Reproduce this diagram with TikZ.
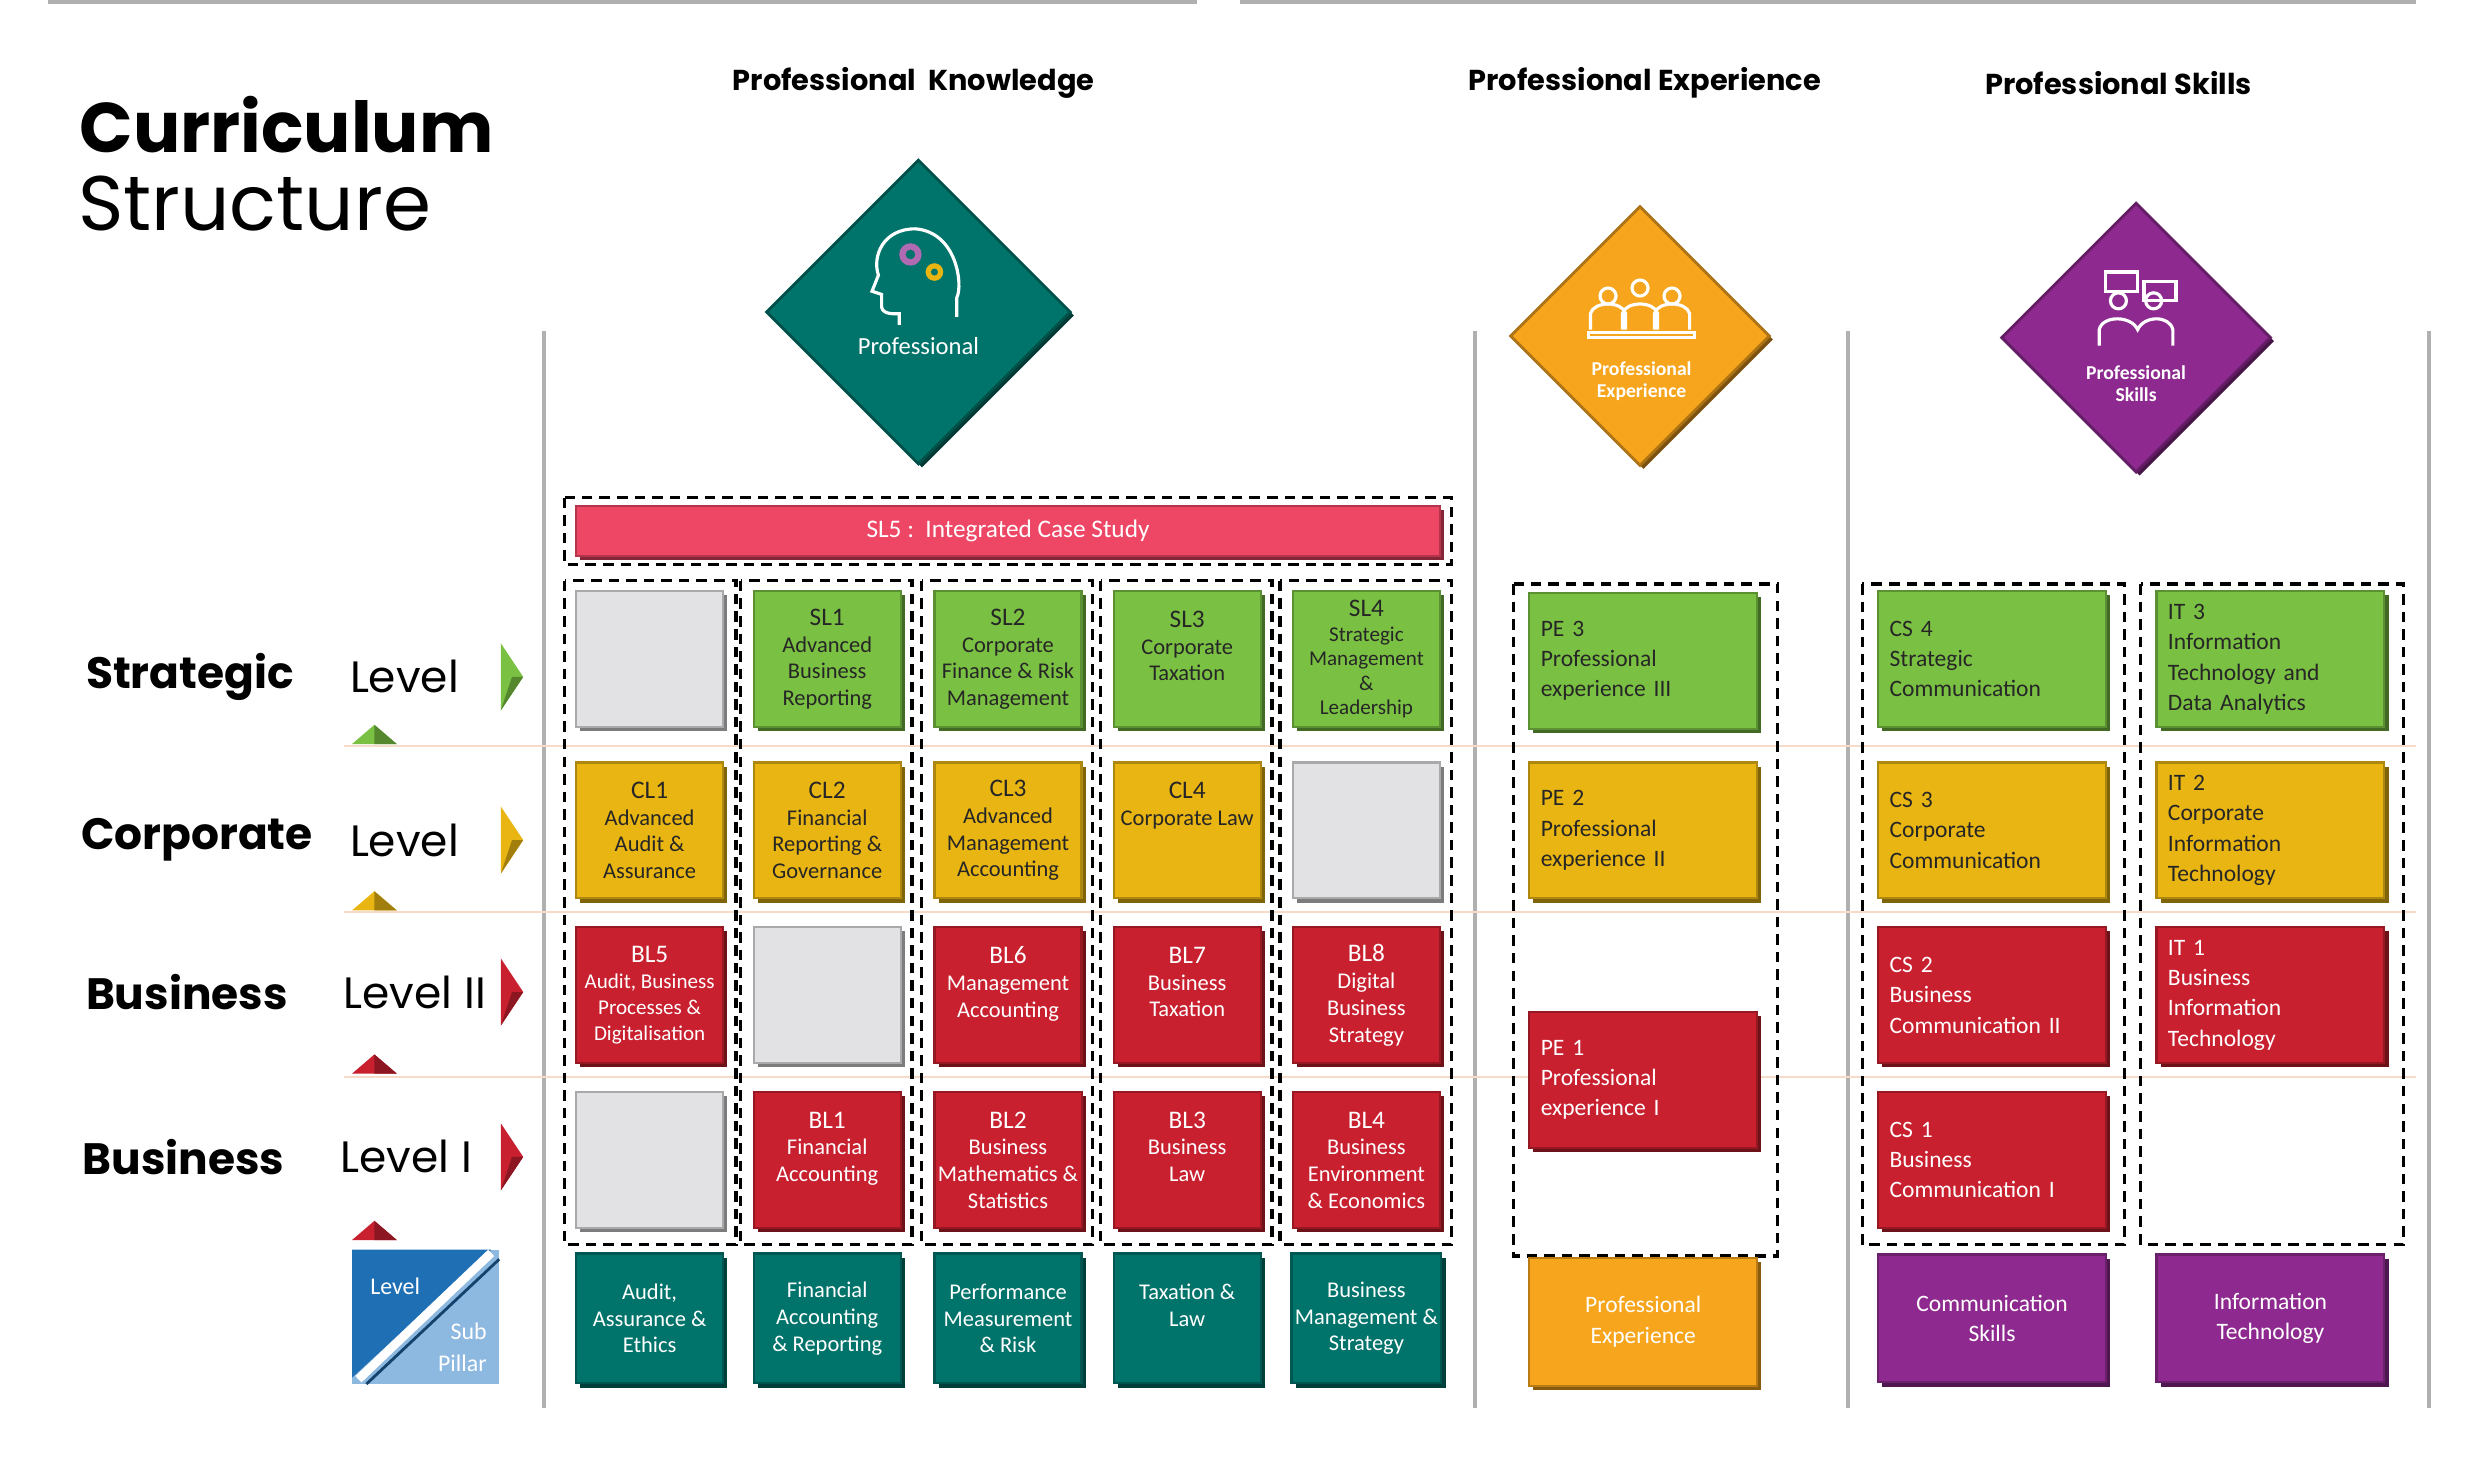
\documentclass[tikz,border=0pt]{standalone}
\usepackage{fontspec}
\setmainfont{Carlito}
\newfontfamily\headfont{Poppins}
\usetikzlibrary{shapes.geometric,shadows}

\definecolor{cgreen}{HTML}{7AC143}
\definecolor{cyellow}{HTML}{E8B512}
\definecolor{cred}{HTML}{C8202F}
\definecolor{cteal}{HTML}{00736A}
\definecolor{cgrey}{HTML}{E2E2E4}
\definecolor{corange}{HTML}{F7A51C}
\definecolor{cpurple}{HTML}{8E2A8F}
\definecolor{cpink}{HTML}{EE4665}
\definecolor{cblue}{HTML}{1F6FB5}
\definecolor{clblue}{HTML}{8DB8E0}
\definecolor{rule}{HTML}{B0B0B0}
\definecolor{faint}{HTML}{F6DCC8}

\tikzset{
  cell/.style={rectangle, fill=#1, draw=#1!75!black, line width=0.6pt,
    general shadow={fill=#1!55!black, shadow xshift=1.2pt, shadow yshift=-1.2pt},
    minimum width=1.47cm, minimum height=1.36cm, inner sep=1pt,
    align=center, font=\fontsize{6.4}{7.6}\selectfont},
  wide/.style={minimum width=2.28cm, text width=2.05cm, align=left},
  dark/.style={text=black!85},
  light/.style={text=white},
  dashbox/.style={dashed, line width=0.9pt, dash pattern=on 3pt off 2pt},
  vrule/.style={rule, line width=1.1pt},
  lvl/.style={anchor=west, font=\headfont\fontsize{12.5}{13}\selectfont},
  head/.style={font=\headfont\bfseries\fontsize{8.2}{9}\selectfont},
  pillar/.style={diamond, aspect=1, draw=#1!70!black, line width=0.8pt, fill=#1,
    general shadow={fill=#1!50!black, shadow xshift=1pt, shadow yshift=-1pt}},
}

\begin{document}
\begin{tikzpicture}[x=0.016cm, y=-0.016cm]
\useasboundingbox (0,0) rectangle (1550.6,911.25);

% top rules and title
\draw[rule, line width=1.2pt] (30,1) -- (748,1);
\draw[rule, line width=1.2pt] (775,1) -- (1510,1);
\node[anchor=west, font=\headfont\bfseries\fontsize{20}{20}\selectfont] (title1) at (42,78) {Curriculum};
\node[anchor=west, font=\headfont\fontsize{22}{22}\selectfont] (title2) at (41,127) {Structure};

% column heads
\node[head] (hpk) at (571,52) {Professional\ \ Knowledge};
\node[head] (hpe) at (1028,52) {Professional Experience};
\node[head] (hps) at (1324,52) {Professional Skills};

% vertical rules
\foreach \x in {340,922,1155,1518}
  \draw[vrule] (\x,207) -- (\x,880);

% faint level lines
\foreach \y in {466,570,673}
  \draw[faint, line width=0.6pt] (215,\y) -- (1510,\y);

% pillar diamonds
\node[pillar=cteal, minimum width=3.05cm, minimum height=3.05cm] (dpk) at (574,195) {};
\node[pillar=corange, minimum width=2.6cm, minimum height=2.6cm] (dpe) at (1025,210) {};
\node[pillar=cpurple, minimum width=2.7cm, minimum height=2.7cm] (dps) at (1335,211) {};
\node[text=white, font=\fontsize{7}{8}\selectfont] (tpk) at (574,216) {Professional};
\node[text=white, align=center, font=\bfseries\fontsize{5.6}{6.2}\selectfont] (tpe) at (1026,238) {Professional\\Experience};
\node[text=white, align=center, font=\bfseries\fontsize{5.6}{6.2}\selectfont] (tps) at (1335,240) {Professional\\Skills};
% icons
\draw[white, line width=0.9pt] (598,198) -- (598,186) .. controls (602,178) and (598,145) .. (572,143)
  .. controls (552,143) and (545,160) .. (549,172) -- (545,182) -- (551,184) -- (551,192)
  .. controls (552,197) and (560,196) .. (562,196) -- (562,203);
\fill[cpurple!70!white] (569,159) circle (7);
\fill[cteal] (569,159) circle (3);
\fill[cyellow] (584,170) circle (5.5);
\fill[cteal] (584,170) circle (2.2);
\foreach \dx in {-20,0,20}{
  \draw[white, line width=0.9pt] (1025+\dx,180+\dx*\dx/80) circle (5);
  \draw[white, line width=0.9pt] (1014+\dx,206) -- (1014+\dx,196) .. controls (1016+\dx,188) and (1034+\dx,188) .. (1036+\dx,196) -- (1036+\dx,206);
}
\draw[white, line width=0.9pt] (993,208) -- (1059,208) -- (1059,211) -- (993,211) -- cycle;
\draw[white, line width=0.9pt] (1324,188) circle (5) (1346,188) circle (5);
\draw[white, line width=0.9pt] (1312,216) -- (1312,206) .. controls (1314,197) and (1332,197) .. (1336,206) .. controls (1340,197) and (1356,197) .. (1358,206) -- (1358,216);
\draw[white, line width=0.9pt] (1316,170) rectangle (1336,182) (1340,176) rectangle (1360,188);

% row labels
\node[lvl] (ls) at (46,423) {\bfseries Strategic};
\node[lvl] (ls2) at (211,423) {Level};
\node[lvl] (lc) at (43,525) {\bfseries Corporate};
\node[lvl] (lc2) at (211,525) {Level};
\node[lvl] (lb2) at (46,620) {\bfseries Business};
\node[lvl] (lb22) at (207,620) {Level II};
\node[lvl] (lb1) at (44,723) {\bfseries Business};
\node[lvl] (lb12) at (205,723) {Level I};
\foreach \y/\c in {423/cgreen,525/cyellow,620/cred,723/cred}{
  \fill[\c] (313,\y-21) -- (327,\y) -- (313,\y+21) -- cycle;
  \fill[\c!70!black] (313,\y+21) -- (327,\y) -- (320,\y) -- cycle;
}
\foreach \y/\c in {465/cgreen,569/cyellow,671/cred,775/cred}{
  \fill[\c] (220,\y) -- (234,\y-12) -- (248,\y) -- cycle;
  \fill[\c!70!black] (234,\y-12) -- (248,\y) -- (234,\y) -- cycle;
}

% legend square
\fill[clblue] (220,781) rectangle (312,865);
\fill[cblue] (220,781) -- (307,781) -- (220,861) -- cycle;
\draw[white, line width=2.5pt] (307,783) -- (224,862);
\draw[cblue!60!black, line width=0.8pt] (312,787) -- (229,865);
\node[text=white, font=\fontsize{6.8}{7}\selectfont] (lglv) at (247,804) {Level};
\node[text=white, align=right, font=\fontsize{6.8}{9}\selectfont] (lgsp) at (289,842) {Sub\\Pillar};

% integrated case study
\draw[dashbox] (353,311) rectangle (907,353);
\node[cell=cpink, light, minimum width=8.64cm, minimum height=0.5cm, font=\fontsize{7.2}{8}\selectfont] (sl5) at (630,332) {SL5 :\ \ Integrated Case Study};

% knowledge columns
\foreach \x in {353,463,576,688,800}
  \draw[dashbox] (\x,363) rectangle (\x+107,778);

\node[cell=cgrey] (g1) at (406,412) {};
\node[cell=cgreen, dark] (sl1) at (517,412) {{\fontsize{7.2}{9}\selectfont SL1}\\Advanced\\Business\\Reporting};
\node[cell=cgreen, dark] (sl2) at (630,412) {{\fontsize{7.2}{9}\selectfont SL2}\\Corporate\\Finance \& Risk\\Management};
\node[cell=cgreen, dark] (sl3) at (742,412) {{\fontsize{7.2}{9}\selectfont SL3}\\Corporate\\Taxation\\ };
\node[cell=cgreen, dark, font=\fontsize{6}{7}\selectfont] (sl4) at (854,412) {{\fontsize{7.2}{9}\selectfont SL4}\\Strategic\\Management\\\&\\Leadership};

\node[cell=cyellow, dark] (cl1) at (406,519) {{\fontsize{7.2}{9}\selectfont CL1}\\Advanced\\Audit \&\\Assurance};
\node[cell=cyellow, dark] (cl2) at (517,519) {{\fontsize{7.2}{9}\selectfont CL2}\\Financial\\Reporting \&\\Governance};
\node[cell=cyellow, dark] (cl3) at (630,519) {{\fontsize{7.2}{9}\selectfont CL3}\\Advanced\\Management\\Accounting};
\node[cell=cyellow, dark] (cl4) at (742,519) {{\fontsize{7.2}{9}\selectfont CL4}\\Corporate Law\\ \\ };
\node[cell=cgrey] (g2) at (854,519) {};

\node[cell=cred, light, font=\fontsize{6}{7.4}\selectfont] (bl5) at (406,622) {{\fontsize{7.2}{9}\selectfont BL5}\\Audit, Business\\Processes \&\\Digitalisation};
\node[cell=cgrey] (g3) at (517,622) {};
\node[cell=cred, light] (bl6) at (630,622) {{\fontsize{7.2}{9}\selectfont BL6}\\Management\\Accounting\\ };
\node[cell=cred, light] (bl7) at (742,622) {{\fontsize{7.2}{9}\selectfont BL7}\\Business\\Taxation\\ };
\node[cell=cred, light] (bl8) at (854,622) {{\fontsize{7.2}{9}\selectfont BL8}\\Digital\\Business\\Strategy};

\node[cell=cgrey] (g4) at (406,725) {};
\node[cell=cred, light] (bl1) at (517,725) {{\fontsize{7.2}{9}\selectfont BL1}\\Financial\\Accounting\\ };
\node[cell=cred, light] (bl2) at (630,725) {{\fontsize{7.2}{9}\selectfont BL2}\\Business\\Mathematics \&\\Statistics};
\node[cell=cred, light] (bl3) at (742,725) {{\fontsize{7.2}{9}\selectfont BL3}\\Business\\Law\\ };
\node[cell=cred, light] (bl4) at (854,725) {{\fontsize{7.2}{9}\selectfont BL4}\\Business\\Environment\\\& Economics};

\node[cell=cteal, light, minimum height=1.3cm] (pk1) at (406,824) {Audit,\\Assurance \&\\Ethics};
\node[cell=cteal, light, minimum height=1.3cm] (pk2) at (517,824) {Financial\\Accounting\\\& Reporting};
\node[cell=cteal, light, minimum height=1.3cm] (pk3) at (630,824) {Performance\\Measurement\\\& Risk};
\node[cell=cteal, light, minimum height=1.3cm] (pk4) at (742,824) {Taxation \&\\Law\\ };
\node[cell=cteal, light, minimum height=1.3cm] (pk5) at (854,824) {Business\\Management \&\\Strategy};

% professional experience
\draw[dashbox] (946,365) rectangle (1111,785);
\node[cell=cgreen, wide, dark, font=\fontsize{6.7}{8.6}\selectfont] (pe3) at (1027,413) {PE 3\\Professional\\experience III};
\node[cell=cyellow, wide, dark, font=\fontsize{6.7}{8.6}\selectfont] (pe2) at (1027,519) {PE 2\\Professional\\experience II};
\node[cell=cred, wide, light, font=\fontsize{6.7}{8.6}\selectfont] (pe1) at (1027,675) {PE 1\\Professional\\experience I};
\node[cell=corange, wide, light, align=center, minimum height=1.28cm, font=\fontsize{6.7}{8.6}\selectfont] (pe0) at (1027,826) {Professional\\Experience};

% professional skills
\draw[dashbox] (1164,365) rectangle (1328,778);
\draw[dashbox] (1338,365) rectangle (1502,778);
\node[cell=cgreen, wide, dark, font=\fontsize{6.7}{8.6}\selectfont] (cs4) at (1245,412) {CS 4\\Strategic\\Communication};
\node[cell=cyellow, wide, dark, font=\fontsize{6.7}{8.6}\selectfont] (cs3) at (1245,519) {CS 3\\Corporate\\Communication};
\node[cell=cred, wide, light, font=\fontsize{6.7}{8.6}\selectfont] (cs2) at (1245,622) {CS 2\\Business\\Communication II};
\node[cell=cred, wide, light, font=\fontsize{6.7}{8.6}\selectfont] (cs1) at (1245,725) {CS 1\\Business\\Communication I};
\node[cell=cpurple, wide, light, align=center, minimum height=1.28cm, font=\fontsize{6.7}{8.6}\selectfont] (cs0) at (1245,824) {Communication\\Skills};

\node[cell=cgreen, wide, dark, font=\fontsize{6.7}{8.6}\selectfont] (it3) at (1419,412) {IT 3\\Information\\Technology and\\Data Analytics};
\node[cell=cyellow, wide, dark, font=\fontsize{6.7}{8.6}\selectfont] (it2) at (1419,519) {IT 2\\Corporate\\Information\\Technology};
\node[cell=cred, wide, light, font=\fontsize{6.7}{8.6}\selectfont] (it1) at (1419,622) {IT 1\\Business\\Information\\Technology};
\node[cell=cpurple, wide, light, align=center, minimum height=1.28cm, font=\fontsize{6.7}{8.6}\selectfont] (it0) at (1419,824) {Information\\Technology};
\end{tikzpicture}
\end{document}
